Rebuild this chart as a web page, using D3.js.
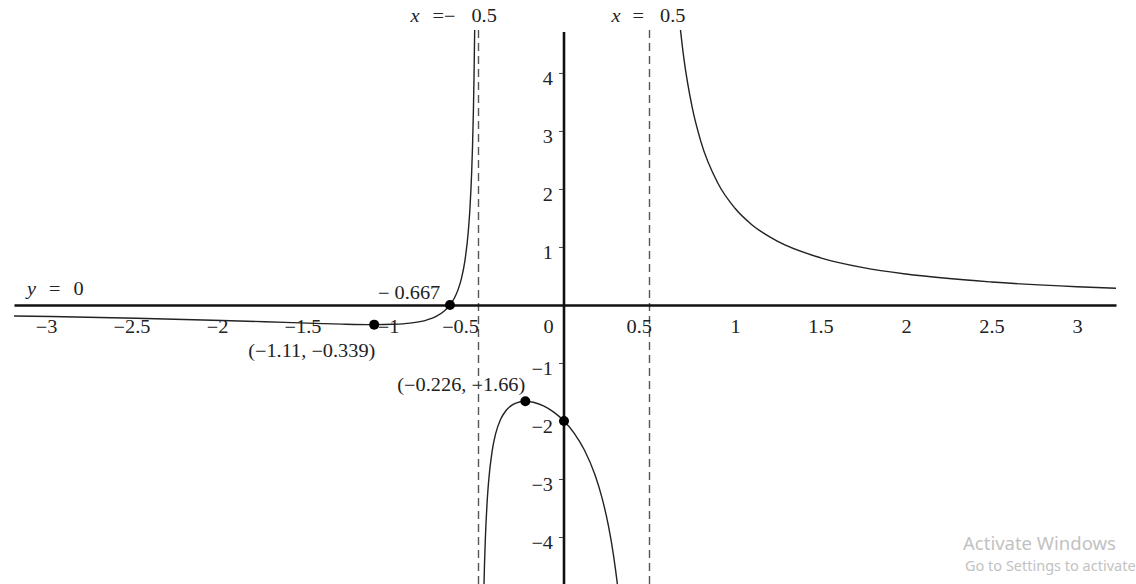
<!DOCTYPE html>
<html>
<head>
<meta charset="utf-8">
<script src="https://cdn.jsdelivr.net/npm/d3@7"></script>
<style>
  body { margin: 0; background: #fff; }
  svg { display: block; }
  text { font-family: "Liberation Serif", "Times New Roman", serif; fill: #222; }
</style>
</head>
<body>
<svg id="plot" width="1136" height="584"></svg>
<script>
"use strict";

//tick values on both axes
const xTicks = [-3, -2.5, -2, -1.5, -1, -0.5, 0, 0.5, 1, 1.5, 2, 2.5, 3];
const yTicks = [-4, -3, -2, -1, 1, 2, 3, 4];

//vertical asymptotes and the horizontal one
const asymptotesX = [-0.5, 0.5];
const asymptoteY = 0;

//curve samples, one list per branch
const leftBranch = [
	[-3.22, -0.189], [-3.0, -0.200], [-2.5, -0.229], [-2.0, -0.267], [-1.75, -0.289],
	[-1.5, -0.313], [-1.3, -0.330], [-1.11, -0.339], [-1.0, -0.333], [-0.9, -0.313],
	[-0.8, -0.256], [-0.75, -0.200], [-0.7, -0.104], [-0.667, 0.0], [-0.64, 0.125],
	[-0.62, 0.260], [-0.6, 0.455], [-0.58, 0.752], [-0.56, 1.258], [-0.55, 1.667],
	[-0.54, 2.284], [-0.535, 2.726], [-0.53, 3.317], [-0.526, 3.955], [-0.522, 4.826]
];
const midBranch = [
	[-0.478, -6.576], [-0.474, -5.706], [-0.47, -5.069], [-0.465, -4.478], [-0.46, -4.036],
	[-0.45, -3.421], [-0.44, -3.014], [-0.42, -2.514], [-0.4, -2.222], [-0.37, -1.967],
	[-0.34, -1.823], [-0.3, -1.719], [-0.26, -1.672], [-0.226, -1.661], [-0.18, -1.677],
	[-0.12, -1.740], [-0.06, -1.847], [0.0, -2.0], [0.06, -2.212], [0.12, -2.504],
	[0.18, -2.918], [0.22, -3.299], [0.26, -3.810], [0.29, -4.325], [0.32, -5.014],
	[0.34, -5.618]
];
const rightBranch = [
	[0.67, 5.040], [0.7, 4.271], [0.75, 3.400], [0.8, 2.821], [0.9, 2.098],
	[1.0, 1.667], [1.1, 1.380], [1.25, 1.095], [1.5, 0.813], [1.75, 0.644],
	[2.0, 0.533], [2.5, 0.396], [3.0, 0.314], [3.23, 0.287]
];

//marked points and their labels
const pointX = [-1.11, -0.667, -0.226, 0];
const pointY = [-0.339, 0, -1.66, -2];
const pointLabels = ["(\u22121.11, \u22120.339)", "\u2212 0.667", "(\u22120.226, \u22121.66)", ""];

(function()
{
	const width = 1136, height = 584;
	//the source text is a little wider than the font, stretch it sideways
	const stretch = 1.13;
	const svg = d3.select("svg#plot");

	let x = d3.scaleLinear().domain([-3.2164, 3.2281]).range([14, 1116]);
	let y = d3.scaleLinear().domain([-4.81, 4.74]).range([584, 30]);

	svg.append("defs").append("clipPath")
		.attr("id", "plot-clip")
		.append("rect")
		.attr("x", x.range()[0]).attr("y", 30)
		.attr("width", x.range()[1] - x.range()[0]).attr("height", height - 30);

	//dashed asymptotes
	svg.append("g")
		.attr("stroke", "#555")
		.attr("stroke-width", 1.4)
		.attr("stroke-dasharray", "8,5")
		.selectAll("line")
		.data(asymptotesX)
		.join("line")
		.attr("x1", d => x(d)).attr("x2", d => x(d))
		.attr("y1", 30).attr("y2", height);

	//x axis: thick line, labels only
	let xAxis = d3.axisBottom(x)
		.tickValues(xTicks)
		.tickSize(0)
		.tickPadding(0);
	let gx = svg.append("g")
		.attr("transform", `translate(0,${y(0)})`)
		.call(xAxis);
	gx.select(".domain").attr("stroke", "#111").attr("stroke-width", 2.6);
	gx.selectAll(".tick text")
		.attr("font-size", 18)
		.attr("y", 28).attr("dy", 0)
		.attr("transform", `scale(${stretch},1)`)
		.text(d => (d < 0 ? "\u2212" : "") + Math.abs(d))
		.attr("text-anchor", d => (Math.abs(d) === 0.5 ? "end" : "middle"))
		.attr("x", function(d)
		{
			let off = d < 0 ? -5 : 0;
			if (d === 0) off = -16;
			if (d === 0.5) off = 2;
			if (d === -0.5) off = 0;
			return off / stretch;
		});

	//y axis: thick line, small ticks to the left
	let yAxis = d3.axisLeft(y)
		.tickValues(yTicks)
		.tickSize(5)
		.tickPadding(6)
		.tickFormat(d => (d < 0 ? "\u2212" : "") + Math.abs(d));
	let gy = svg.append("g")
		.attr("transform", `translate(${x(0)},0)`)
		.call(yAxis);
	gy.select(".domain").remove();
	gy.selectAll(".tick line").attr("stroke", "#444").attr("stroke-width", 1);
	gy.selectAll(".tick text")
		.attr("font-size", 18)
		.attr("x", -11 / stretch)
		.attr("transform", `scale(${stretch},1)`)
		.attr("dy", "0.62em");
	gy.append("line")
		.attr("stroke", "#111")
		.attr("stroke-width", 2.6)
		.attr("x1", 0).attr("x2", 0)
		.attr("y1", 32).attr("y2", height);

	//curve branches
	let path_func = d3.line()
		.x(d => x(d[0]))
		.y(d => y(d[1]))
		.curve(d3.curveMonotoneX);
	svg.append("g")
		.attr("clip-path", "url(#plot-clip)")
		.attr("fill", "none")
		.attr("stroke", "#222")
		.attr("stroke-width", 1.4)
		.selectAll("path")
		.data([leftBranch, midBranch, rightBranch])
		.join("path")
		.attr("d", path_func);

	//points
	svg.append("g")
		.selectAll("circle")
		.data(pointX)
		.join("circle")
		.attr("cx", d => x(d))
		.attr("cy", (d, i) => y(pointY[i]))
		.attr("r", 5)
		.attr("fill", "#000");

	//point labels, placed by hand round each point
	let labelOffsets = [[-126, 32], [-72, -6], [-128, -10], [0, 0]];
	svg.append("g")
		.selectAll("text")
		.data(pointLabels)
		.join("text")
		.attr("font-size", 18)
		.attr("transform", (d, i) =>
			`translate(${x(pointX[i]) + labelOffsets[i][0]},${y(pointY[i]) + labelOffsets[i][1]}) scale(${stretch},1)`)
		.text(d => d);

	//asymptote captions
	function caption(px, py, parts)
	{
		let t = svg.append("text")
			.attr("transform", `translate(${px},${py}) scale(${stretch},1)`)
			.attr("font-size", 18);
		for (let p of parts)
		{
			t.append("tspan")
				.attr("dx", p[1] / stretch)
				.attr("font-style", p[2] ? "italic" : null)
				.text(p[0]);
		}
	}
	caption(x(-0.5) - 68, 22, [["x", 0, true], ["=\u2212", 13], ["0.5", 16]]);
	caption(x(0.5) - 38, 22, [["x", 0, true], ["=", 12], ["0.5", 16]]);
	caption(27, y(asymptoteY) - 10, [["y", 0, true], ["=", 13], ["0", 13]]);

	//screen watermark
	svg.append("text")
		.attr("x", 963).attr("y", 550)
		.style("font-family", "'Noto Sans', 'Open Sans', sans-serif")
		.style("font-size", "18.5px")
		.style("fill", "#c2c2c2")
		.text("Activate Windows");
	svg.append("text")
		.attr("x", 965).attr("y", 571)
		.style("font-family", "'Noto Sans', 'Open Sans', sans-serif")
		.style("font-size", "14.5px")
		.style("fill", "#c2c2c2")
		.text("Go to Settings to activate");
})();
</script>
</body>
</html>
